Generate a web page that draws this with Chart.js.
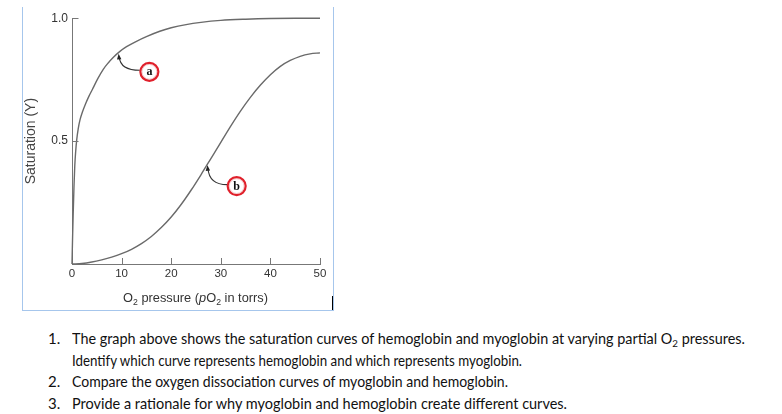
<!DOCTYPE html>
<html>
<head>
<meta charset="utf-8">
<script src="https://cdn.jsdelivr.net/npm/chart.js@4.4.1/dist/chart.umd.min.js"></script>
<style>
  html, body { margin:0; padding:0; background:#fff; }
  #page { position:relative; width:782px; height:414px; overflow:hidden; background:#fff; }
  #c { position:absolute; left:22px; top:7px; }
  .frame { position:absolute; background:#a6c6ec; }
  .q { position:absolute; left:0; height:20px; line-height:20px; font-family:Lato, "Open Sans", sans-serif; font-size:15px; color:#111; white-space:nowrap; }
  .q .num { position:absolute; left:48px; }
  .q .t { position:absolute; left:72px; transform-origin:0 50%; display:inline-block; }
  sub { font-size:68%; vertical-align:baseline; position:relative; top:0.32em; line-height:0; }
  #xtitle { position:absolute; top:289px; height:18px; line-height:18px; font-family:"Liberation Sans", Arial, sans-serif; font-size:12.5px; color:#333; white-space:nowrap; transform-origin:0 50%; }
</style>
</head>
<body>
<div id="page">
  <div class="frame" style="left:22px; top:7px; width:1px; height:304px;"></div>
  <div class="frame" style="left:333px; top:7px; width:1px; height:304px;"></div>
  <div class="frame" style="left:22px; top:310px; width:312px; height:1px;"></div>
  <div style="position:absolute; left:332px; top:296px; width:1px; height:14px; background:#000;"></div>
  <canvas id="c" width="311" height="303" style="width:311px;height:303px;"></canvas>
  <div id="xtitle" data-w="145" data-cx="195.5">O<sub>2</sub> pressure (<i>p</i>O<sub>2</sub> in torrs)</div>

  <div class="q" style="top:328px;"><span class="num">1.</span><span class="t" data-w="673">The graph above shows the saturation curves of hemoglobin and myoglobin at varying partial O<sub>2</sub> pressures.</span></div>
  <div class="q" style="top:350px;"><span class="t" data-w="450">Identify which curve represents hemoglobin and which represents myoglobin.</span></div>
  <div class="q" style="top:371px;"><span class="num">2.</span><span class="t" data-w="436">Compare the oxygen dissociation curves of myoglobin and hemoglobin.</span></div>
  <div class="q" style="top:393px;"><span class="num">3.</span><span class="t" data-w="495">Provide a rationale for why myoglobin and hemoglobin create different curves.</span></div>
</div>

<script>
// ---- data ----
const pressureA  = [0, 0.12, 0.24, 0.4, 0.56, 0.75, 0.95, 1.25, 1.6, 2.1, 2.7, 3.4, 4.1, 5.2, 6.3, 7.3, 8.3, 9.6, 11, 13, 15, 17.7, 20, 23, 26, 30, 35, 40, 45, 50];
const myoglobin  = [0, 0.11, 0.205, 0.315, 0.4, 0.46, 0.505, 0.55, 0.585, 0.618, 0.65, 0.682, 0.71, 0.754, 0.792, 0.818, 0.84, 0.864, 0.884, 0.906, 0.925, 0.947, 0.961, 0.974, 0.983, 0.991, 0.996, 0.999, 1.0, 1.0];
const pressureB  = [0, 2, 4, 6, 8, 10, 12, 14, 16, 18, 20, 22, 24, 26, 28, 30, 32, 34, 36, 38, 40, 42, 44, 46, 48, 50];
const hemoglobin = [0, 0.002, 0.008, 0.017, 0.028, 0.042, 0.06, 0.083, 0.112, 0.148, 0.191, 0.242, 0.3, 0.363, 0.429, 0.495, 0.561, 0.623, 0.679, 0.728, 0.77, 0.804, 0.828, 0.845, 0.855, 0.859];
const xTickValues = [0, 10, 20, 30, 40, 50];
const yTickValues = [0.5, 1.0];
const curveLabels = ['a', 'b'];
// annotation anchor points (data units): circle centre and arrow tip on curve
const labelCircleP = [15.6, 33.2];
const labelCircleY = [0.782, 0.317];
const arrowTipP    = [9.4, 27.3];
const arrowTipY    = [0.855, 0.402];

const toPts = (xs, ys) => xs.map((x, i) => ({ x: x, y: ys[i] }));

const innerTicks = {
  id: 'innerTicks',
  afterDraw(chart) {
    const { ctx, scales: { x, y }, chartArea } = chart;
    ctx.save();
    ctx.strokeStyle = '#777';
    ctx.lineWidth = 1;
    ctx.beginPath();
    xTickValues.forEach(v => {
      if (v === 0) return;
      const px = Math.round(x.getPixelForValue(v)) + 0.5;
      ctx.moveTo(px, chartArea.bottom);
      ctx.lineTo(px, chartArea.bottom - 6);
    });
    yTickValues.forEach(v => {
      const py = Math.round(y.getPixelForValue(v)) + 0.5;
      ctx.moveTo(chartArea.left, py);
      ctx.lineTo(chartArea.left + 6.5, py);
    });
    ctx.stroke();
    ctx.restore();
  }
};

const curveLabelsPlugin = {
  id: 'curveLabels',
  afterDatasetsDraw(chart) {
    const { ctx, scales: { x, y } } = chart;
    ctx.save();
    curveLabels.forEach((lab, i) => {
      const cx = x.getPixelForValue(labelCircleP[i]);
      const cy = y.getPixelForValue(labelCircleY[i]);
      const tx = x.getPixelForValue(arrowTipP[i]);
      const ty = y.getPixelForValue(arrowTipY[i]);
      const r = 9;
      const sx = cx - r - 0.5, sy = cy - 1.5;
      const qx = tx + (sx - tx) * 0.08, qy = sy;
      ctx.strokeStyle = '#333';
      ctx.lineWidth = 1.1;
      ctx.beginPath();
      ctx.moveTo(sx, sy);
      ctx.quadraticCurveTo(qx, qy, tx + 0.6, ty + 3);
      ctx.stroke();
      const ang = Math.atan2(ty - qy, tx - qx);
      ctx.fillStyle = '#222';
      ctx.beginPath();
      ctx.moveTo(tx, ty);
      ctx.lineTo(tx - 6 * Math.cos(ang - 0.38), ty - 6 * Math.sin(ang - 0.38));
      ctx.lineTo(tx - 6 * Math.cos(ang + 0.38), ty - 6 * Math.sin(ang + 0.38));
      ctx.closePath();
      ctx.fill();
      ctx.beginPath();
      ctx.arc(cx, cy, r, 0, Math.PI * 2);
      ctx.fillStyle = '#fff';
      ctx.fill();
      ctx.lineWidth = 2.2;
      ctx.strokeStyle = '#e0202b';
      ctx.stroke();
      ctx.beginPath();
      ctx.arc(cx, cy, r - 1.6, 0, Math.PI * 2);
      ctx.lineWidth = 0.8;
      ctx.strokeStyle = 'rgba(230,120,120,0.5)';
      ctx.stroke();
      ctx.fillStyle = '#111';
      ctx.font = 'bold 12px "Liberation Serif", "DejaVu Serif", serif';
      ctx.textAlign = 'center';
      ctx.textBaseline = 'middle';
      ctx.fillText(lab, cx, cy + 0.5);
    });
    ctx.restore();
  }
};

const xTickFont = { family: '"Liberation Sans", Arial, sans-serif', size: 11.5 };
const yTickFont = { family: '"Liberation Sans", Arial, sans-serif', size: 12 };

new Chart(document.getElementById('c'), {
  type: 'line',
  data: {
    datasets: [
      { label: 'a', data: toPts(pressureA, myoglobin), borderColor: '#6a6a6a', borderWidth: 1.4,
        pointRadius: 0, cubicInterpolationMode: 'monotone', fill: false, clip: 6 },
      { label: 'b', data: toPts(pressureB, hemoglobin), borderColor: '#6a6a6a', borderWidth: 1.4,
        pointRadius: 0, cubicInterpolationMode: 'monotone', fill: false, clip: 6 }
    ]
  },
  options: {
    responsive: false,
    animation: false,
    devicePixelRatio: 1,
    layout: { padding: { left: 0, top: 8, right: 13, bottom: 0 } },
    plugins: { legend: { display: false }, tooltip: { enabled: false } },
    scales: {
      x: {
        type: 'linear', min: 0, max: 50,
        afterBuildTicks: s => { s.ticks = xTickValues.map(v => ({ value: v })); },
        ticks: { font: xTickFont, color: '#333', padding: 3, maxRotation: 0, autoSkip: false,
                 callback: v => String(v) },
        grid: { display: false, drawTicks: false },
        border: { display: true, color: '#777', width: 1 },
        afterFit: s => { s.height = 46; }
      },
      y: {
        type: 'linear', min: 0, max: 1,
        afterBuildTicks: s => { s.ticks = yTickValues.map(v => ({ value: v })); },
        ticks: { font: yTickFont, color: '#333', padding: 4, callback: v => Number(v).toFixed(1) },
        grid: { display: false, drawTicks: false },
        border: { display: true, color: '#777', width: 1 },
        title: { display: true, text: 'Saturation (Y)', color: '#444',
                 font: { family: '"Liberation Sans", Arial, sans-serif', size: 14 },
                 padding: { top: 1, bottom: 0 } },
        afterFit: s => { s.width = 50; }
      }
    }
  },
  plugins: [innerTicks, curveLabelsPlugin]
});

function fitText() {
  document.querySelectorAll('.q .t').forEach(el => {
    el.style.transform = 'none';
    const w = el.getBoundingClientRect().width;
    const target = parseFloat(el.dataset.w);
    if (w > 0) el.style.transform = 'scaleX(' + (target / w) + ')';
  });
  const xt = document.getElementById('xtitle');
  xt.style.transform = 'none';
  xt.style.left = '0px';
  const w = xt.getBoundingClientRect().width;
  const target = parseFloat(xt.dataset.w);
  const s = target / w;
  xt.style.left = (parseFloat(xt.dataset.cx) - target / 2) + 'px';
  xt.style.transform = 'scaleX(' + s + ')';
}
fitText();
if (document.fonts && document.fonts.ready) document.fonts.ready.then(fitText);
</script>
</body>
</html>
